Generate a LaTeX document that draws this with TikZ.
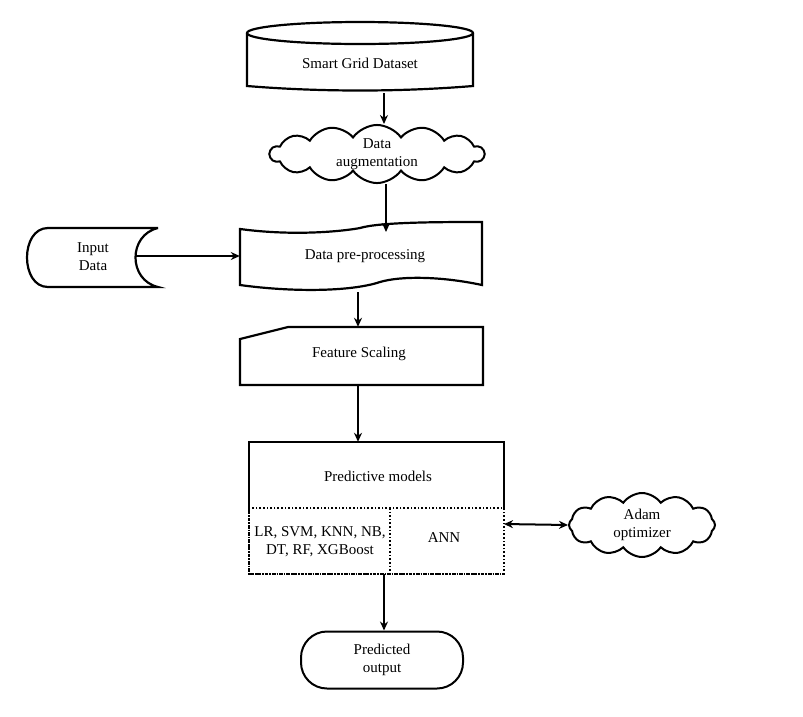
\documentclass[tikz,border=0pt]{standalone}
\usepackage{fontspec}
\setmainfont{Liberation Serif}
\usetikzlibrary{shapes.symbols,arrows.meta}
\begin{document}
\begin{tikzpicture}[x=1pt,y=-1pt,
  outl/.style={line width=2.2pt,black},
  arr/.style={line width=2pt,-{Stealth[length=9pt,width=8pt]}},
  lbl/.style={font=\fontsize{15}{18}\selectfont,align=center,inner sep=0pt},
  cld/.style={cloud,cloud puffs=14,cloud puff arc=110,aspect=3,draw,line width=2pt,align=center,font=\fontsize{15}{18}\selectfont,inner sep=0pt}]
\useasboundingbox (0,0) rectangle (803,716);
% cylinder
\draw[outl] (247,33) -- (247,86) .. controls (320,92) and (400,92) .. (473,86) -- (473,33);
\draw[outl] (360,33) ellipse [x radius=113,y radius=11];
\node[lbl,minimum width=226pt,minimum height=66pt] (sg) at (360,58) {};
\node[lbl] (sgt) at (360,63) {Smart Grid Dataset};
% cloud 1
\node[cld,minimum width=214pt,minimum height=58pt] (aug) at (377,154) {Data\\augmentation};
% pre-processing
\draw[outl] (240,229) .. controls (300,237) and (350,230) .. (360,228) .. controls (380,222) and (440,222) .. (482,222)
  -- (482,285) .. controls (440,276) and (400,276) .. (380,282) .. controls (350,292) and (290,292) .. (240,285) -- cycle;
\node[lbl,minimum width=242pt,minimum height=56pt] (pp) at (361,256) {};
\node[lbl] at (365,256) {Data pre-processing};
% input data
\draw[outl] (158,228) -- (48,228) .. controls (20,228) and (20,287) .. (48,287) -- (158,287)
  .. controls (128,280) and (128,235) .. (158,228);
\node[lbl,minimum width=100pt,minimum height=58pt] (in) at (93,257) {Input\\Data};
% feature scaling
\draw[outl] (240,339) -- (288,327) -- (483,327) -- (483,385) -- (240,385) -- cycle;
\node[lbl,minimum width=243pt,minimum height=58pt] (fs) at (361.5,356) {};
\node[lbl] at (359,354) {Feature Scaling};
% predictive models
\draw[outl] (249,508) -- (249,442) -- (504,442) -- (504,508);
\draw[line width=1.6pt,dotted] (249,508) rectangle (504,574) (390,508) -- (390,574);
\draw[outl,line width=1.4pt,densely dotted] (249,508) -- (249,574) -- (504,574);
\node[lbl,minimum width=255pt,minimum height=132pt] (pm) at (376.5,508) {};
\node[lbl] at (378,476) {Predictive models};
\node[lbl] (ml) at (320,542) {LR, SVM, KNN, NB,\\DT, RF, XGBoost};
\node[lbl] (ann) at (444,538) {ANN};
\coordinate (pmr) at (504,524);
% adam
\node[cld,minimum width=146pt,minimum height=64pt,cloud puffs=12] (adam) at (642,525) {Adam\\optimizer};
% predicted output
\node[lbl,draw,line width=2pt,rounded corners=26pt,minimum width=162pt,minimum height=57pt] (out) at (382,660) {Predicted\\output};
% arrows
\draw[arr] (sg.south -| 384,0) ++(0,2) -- (384,124);
\draw[arr] (386,184) -- (386,232);
\draw[arr] (135,256) -- (pp.west);
\draw[arr] (358,292) -- (fs.north -| 358,0);
\draw[arr] (358,385) -- (pm.north -| 358,0);
\draw[line width=2pt,{Stealth[length=9pt,width=8pt]}-{Stealth[length=9pt,width=8pt]}] (pmr) -- (adam.west);
\draw[arr] (384,574) -- (out.north -| 384,0);
\end{tikzpicture}
\end{document}
